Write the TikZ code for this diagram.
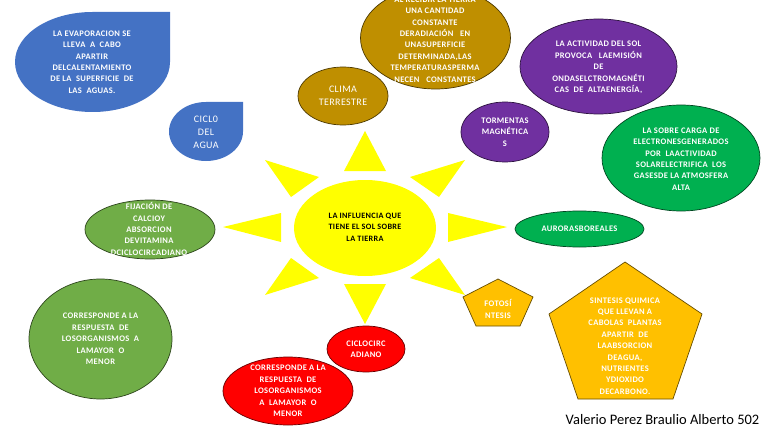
\documentclass[tikz,border=0pt]{standalone}
\usepackage{fontspec}
\setmainfont{Carlito}
\newfontfamily\lblfont[LetterSpace=4]{Carlito}
\tikzset{
  x=1pt,y=-1pt,
  lbl/.style={align=center,inner sep=0pt,text=white,font=\lblfont\bfseries\fontsize{8.5}{11.4}\selectfont},
  big/.style={lbl,font=\lblfont\fontsize{10}{13.2}\selectfont},
  dark/.style={lbl,text=black,font=\lblfont\bfseries\fontsize{8.2}{11.6}\selectfont},
  blob/.style={draw=#1!40!black,line width=0.7pt,fill=#1},
  ray/.style={fill=sunc,draw=none},
}
\definecolor{bluec}{HTML}{4472C4}
\definecolor{goldc}{HTML}{BF8F00}
\definecolor{purpc}{HTML}{7030A0}
\definecolor{grnc}{HTML}{00B050}
\definecolor{oliv}{HTML}{70AD47}
\definecolor{redc}{HTML}{FF0000}
\definecolor{orgc}{HTML}{FFC000}
\definecolor{sunc}{HTML}{FFFF00}
\begin{document}
\begin{tikzpicture}
\useasboundingbox (0,0) rectangle (768,433);
\clip (0,0) rectangle (768,433);
% rays
\fill[ray] (365,131)--(344,171)--(386,171)--cycle;
\fill[ray] (365,324)--(344,284)--(386,284)--cycle;
\fill[ray] (223,227)--(281,213)--(281,242)--cycle;
\fill[ray] (507,227)--(448,213)--(448,242)--cycle;
\fill[ray] (265,160)--(319,177)--(291,197)--cycle;
\fill[ray] (465,160)--(410,177)--(439,197)--cycle;
\fill[ray] (265,295)--(319,278)--(291,258)--cycle;
\fill[ray] (465,295)--(410,278)--(439,258)--cycle;
% sun
\fill[sunc] (365,228) ellipse [x radius=71,y radius=48];
\node[dark] (sun) at (365,227) {LA INFLUENCIA QUE\\TIENE EL SOL SOBRE\\LA TIERRA};
% drops
\fill[bluec] (170,12)--(92.5,12) arc[start angle=-90,end angle=-270,x radius=77.5,y radius=50] arc[start angle=-270,end angle=-360,x radius=77.5,y radius=50]--cycle;
\node[lbl] (d1) at (92,62) {LA EVAPORACION SE\\LLEVA\ \ A\ \ CABO\\APARTIR\\DELCALENTAMIENTO\\DE LA\ \ SUPERFICIE\ \ DE\\LAS\ \ AGUAS.};
\fill[bluec] (243,102)--(206,102) arc[start angle=-90,end angle=-270,x radius=37,y radius=29.5] arc[start angle=-270,end angle=-360,x radius=37,y radius=29.5]--cycle;
\node[big] (d2) at (206,132) {CICL0\\DEL\\AGUA};
% gold
\draw[blob=goldc] (435.5,38) ellipse [x radius=75,y radius=51];
\node[lbl] (g1) at (435,39.5) {AL RECIBIR LA TIERRA\\UNA CANTIDAD\\CONSTANTE\\DERADIACIÓN\ \ \ EN\\UNASUPERFICIE\\DETERMINADA,LAS\\TEMPERATURASPERMA\\NECEN\ \ \ CONSTANTES};
\draw[blob=goldc] (343,96) ellipse [x radius=45,y radius=29];
\node[big] (g2) at (343,96) {CLIMA\\TERRESTRE};
% purple
\draw[blob=purpc] (598.5,66.5) ellipse [x radius=78.5,y radius=47.5];
\node[lbl] (p1) at (598.5,67.5) {LA ACTIVIDAD DEL SOL\\PROVOCA\ \ \ LAEMISIÓN\\DE\\ONDASELCTROMAGNÉTI\\CAS\ \ DE\ \ ALTAENERGÍA,};
\draw[blob=purpc] (505,132) ellipse [x radius=44,y radius=30];
\node[lbl] (p2) at (505,132) {TORMENTAS\\MAGNÉTICA\\S};
% green
\draw[blob=grnc] (681,158) ellipse [x radius=79,y radius=53];
\node[lbl] (v1) at (681,159) {LA SOBRE CARGA DE\\ELECTRONESGENERADOS\\POR\ \ LAACTIVIDAD\\SOLARELECTRIFICA\ \ LOS\\GASESDE LA ATMOSFERA\\ALTA};
\draw[blob=grnc] (579.5,229) ellipse [x radius=64.5,y radius=18];
\node[lbl] (v2) at (579.5,228.5) {AURORASBOREALES};
% olive
\draw[blob=oliv] (150,229.5) ellipse [x radius=65,y radius=29.5];
\node[lbl] (o1) at (149,229) {FIJACIÓN DE\\CALCIOY\\ABSORCION\\DEVITAMINA\\DCICLOCIRCADIANO};
\draw[blob=oliv] (100.5,339) ellipse [x radius=71.5,y radius=60];
\node[lbl] (o2) at (100.5,339) {CORRESPONDE A LA\\RESPUESTA\ \ DE\\LOSORGANISMOS\ \ A\\LAMAYOR\ \ O\\MENOR};
% red
\draw[blob=redc] (366,349) ellipse [x radius=39,y radius=23];
\node[lbl] (r1) at (366,349) {CICLOCIRC\\ADIANO};
\draw[blob=redc] (288,391) ellipse [x radius=65,y radius=34];
\node[lbl] (r2) at (288,391) {CORRESPONDE A LA\\RESPUESTA\ \ DE\\LOSORGANISMOS\\A\ \ LAMAYOR\ \ O\\MENOR};
% pentagons
\draw[blob=orgc] (498,279)--(533,297)--(520,326)--(476,326)--(463,297)--cycle;
\node[lbl] (k1) at (498,309) {FOTOSÍ\\NTESIS};
\draw[blob=orgc] (625,262)--(702,314)--(673,399)--(578,399)--(549,314)--cycle;
\node[lbl] (k2) at (625,346) {SINTESIS QUIMICA\\QUE LLEVAN A\\CABOLAS\ \ PLANTAS\\APARTIR\ \ DE\\LAABSORCION\\DEAGUA,\\NUTRIENTES\\YDIOXIDO\\DECARBONO.};
\node[inner sep=0pt,text=black,font=\fontsize{14.5}{17}\selectfont] (sig) at (662.5,420) {Valerio Perez Braulio Alberto 502};
\end{tikzpicture}
\end{document}
